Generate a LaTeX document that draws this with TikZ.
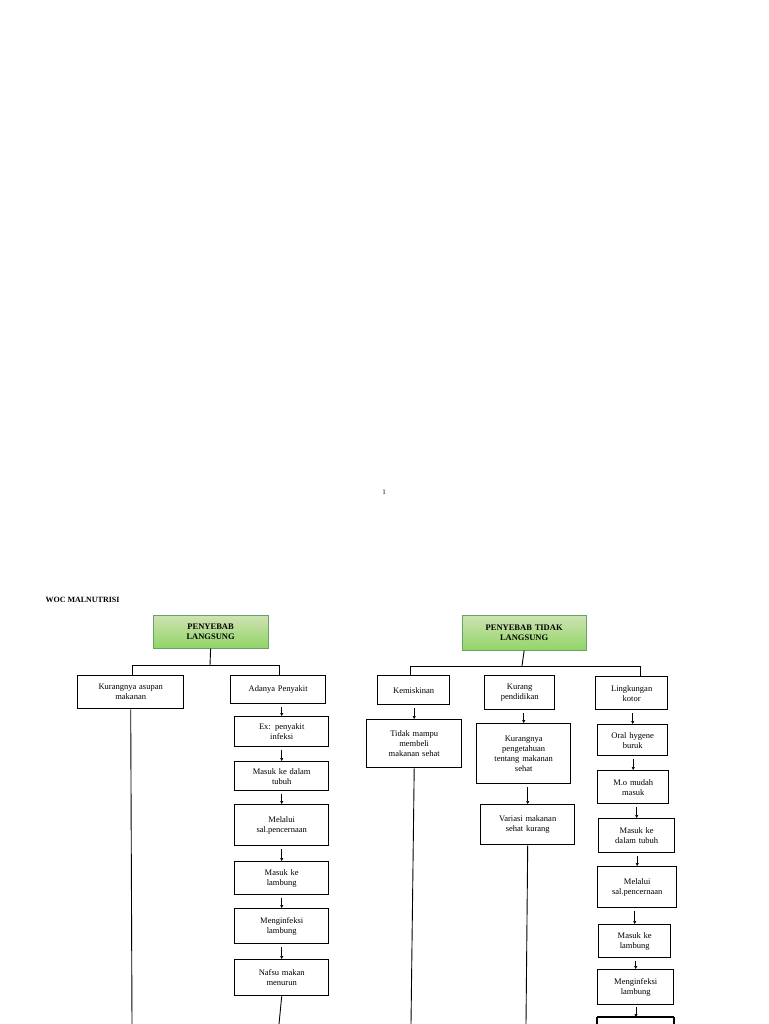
\documentclass[tikz,border=0pt]{standalone}
\usepackage{fontspec}
\setmainfont{Liberation Serif}
\usetikzlibrary{arrows.meta}
\begin{document}
\begin{tikzpicture}[x=1pt,y=-1pt,
  bx/.style={draw=black,line width=1.4pt,align=center,inner sep=1pt,font=\fontsize{8.5}{10}\selectfont,anchor=north west},
  hd/.style={draw=green!40!black!60,line width=0.6pt,top color=green!25!olive!30,bottom color=green!45!olive!60,align=center,font=\bfseries\fontsize{8.5}{10}\selectfont,anchor=north west},
  ar/.style={-{Triangle[length=3pt,width=3pt]},line width=0.5pt},
  ln/.style={line width=0.9pt}]
\useasboundingbox (0,0) rectangle (768,1024);
\node at (384,492) {\fontsize{7}{8}\selectfont 1};
\node[anchor=west,font=\bfseries\fontsize{8}{9}\selectfont] at (42,600) {WOC MALNUTRISI};
\newcommand{\bb}[6]{\node[bx,minimum width=#4-#2,minimum height=#5-#3,text width=#4-#2-4] (#1) at (#2,#3) {#6};}
% headers
\node[hd,minimum width=112,minimum height=33,text width=108] (h1) at (153,615) {PENYEBAB\\LANGSUNG};
\node[hd,minimum width=121,minimum height=35,text width=117] (h2) at (462,615) {PENYEBAB TIDAK\\LANGSUNG};
% left
\bb{a1}{77}{675}{183}{708}{Kurangnya asupan\\makanan}
\bb{b1}{230}{675}{325}{703}{Adanya Penyakit}
\bb{b2}{234}{716}{328}{746}{Ex: penyakit\\infeksi}
\bb{b3}{234}{761}{328}{790}{Masuk ke dalam\\tubuh}
\bb{b4}{234}{804}{328}{845}{Melalui\\sal.pencernaan}
\bb{b5}{234}{861}{328}{894}{Masuk ke\\lambung}
\bb{b6}{234}{908}{328}{943}{Menginfeksi\\lambung}
\bb{b7}{234}{959}{328}{995}{Nafsu makan\\menurun}
% right
\bb{c1}{377}{675}{449}{704}{Kemiskinan}
\bb{c2}{366}{719}{461}{767}{Tidak mampu\\membeli\\makanan sehat}
\bb{d1}{484}{675}{554}{709}{Kurang\\pendidikan}
\bb{d2}{476}{723}{570}{783}{Kurangnya\\pengetahuan\\tentang makanan\\sehat}
\bb{d3}{480}{804}{574}{844}{Variasi makanan\\sehat kurang}
\bb{e1}{595}{676}{667}{709}{Lingkungan\\kotor}
\bb{e2}{597}{724}{667}{755}{Oral hygene\\buruk}
\bb{e3}{597}{770}{668}{803}{M.o mudah\\masuk}
\bb{e4}{598}{818}{674}{852}{Masuk ke\\dalam tubuh}
\bb{e5}{597}{866}{676}{907}{Melalui\\sal.pencernaan}
\bb{e6}{598}{924}{670}{957}{Masuk ke\\lambung}
\bb{e7}{597}{969}{673}{1004}{Menginfeksi\\lambung}
\draw[line width=1.4pt] (597,1017) -- (674,1017) (597,1017) -- (597,1030) (674,1017) -- (674,1030);
% tree connectors
\draw[ln] (h1.south) -- (210,665) coordinate (j1);
\draw[ln] (132,675) |- (279,665) -- (279,675);
\draw[ln] (h2.south) -- (522,666);
\draw[ln] (410,675) |- (640,666) -- (640,676);
\draw[ln] (a1.south) -- (132,1024);
\draw[ln] (b7.south) -- (279,1024);
\draw[ln] (c2.south) -- (411,1024);
\draw[ln] (d3.south) -- (526,1024);
% arrows
\foreach \u/\v in {b1/b2,b2/b3,b3/b4,b4/b5,b5/b6,b6/b7,c1/c2,d1/d2,d2/d3,e1/e2,e2/e3,e3/e4,e4/e5,e5/e6,e6/e7}
  \draw[ar] ([yshift=-3pt]\v.north |- \u.south) -- (\v.north);
\draw[ar] (636,1007) -- (636,1017);
\end{tikzpicture}
\end{document}
